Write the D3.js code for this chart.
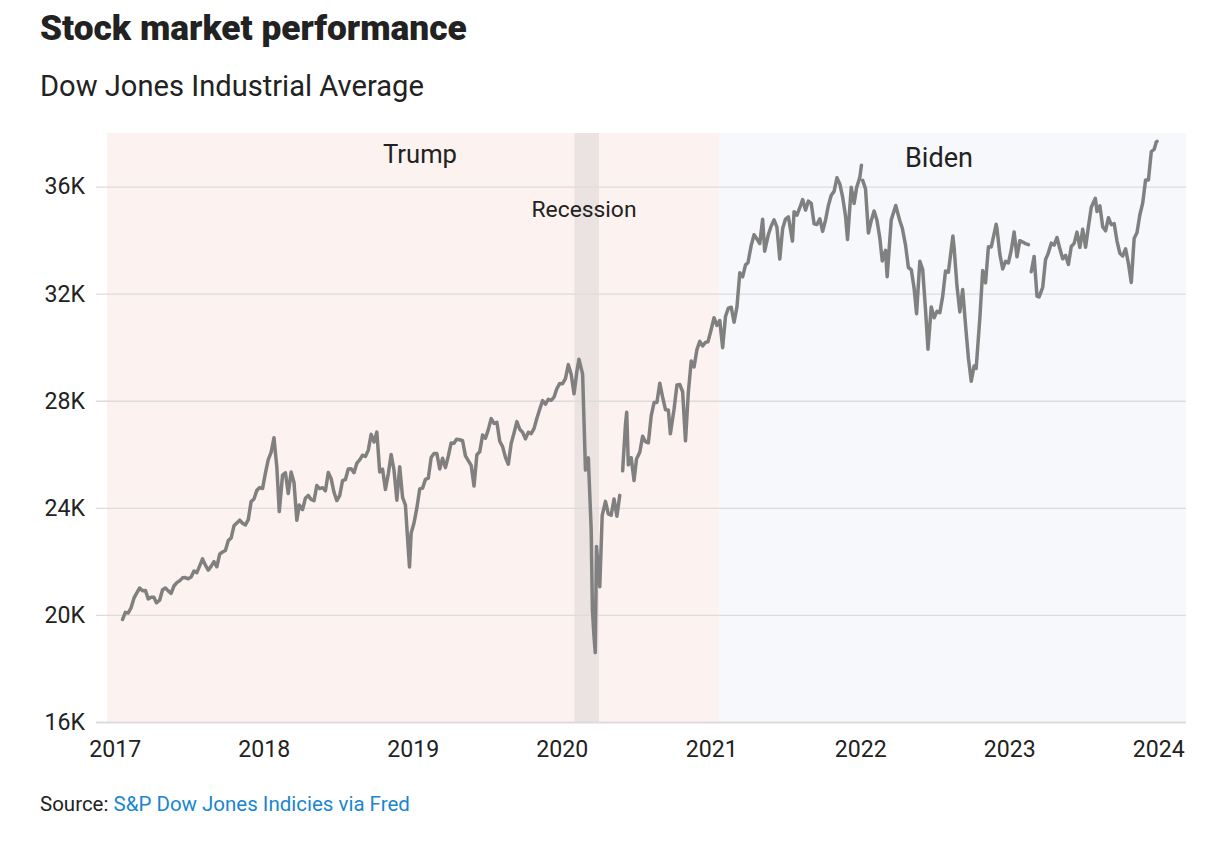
<!DOCTYPE html>
<html><head><meta charset="utf-8">
<script src="https://cdn.jsdelivr.net/npm/d3@7"></script>
<style>
body{margin:0;background:#fff;}
text{font-family:Roboto,"Noto Sans",sans-serif;}
</style>
</head><body>
<svg id="c" width="1214" height="850"></svg>
<script>
// ---- data (weekly DJIA closes) ----
const dates = [
"2017-01-20","2017-01-27","2017-02-03","2017-02-10","2017-02-17","2017-02-24","2017-03-03","2017-03-10","2017-03-17","2017-03-24","2017-03-31","2017-04-07","2017-04-13","2017-04-21","2017-04-28","2017-05-05","2017-05-12","2017-05-19","2017-05-26","2017-06-02","2017-06-09","2017-06-16","2017-06-23","2017-06-30","2017-07-07","2017-07-14","2017-07-21","2017-07-28","2017-08-04","2017-08-11","2017-08-18","2017-08-25","2017-09-01","2017-09-08","2017-09-15","2017-09-22","2017-09-29","2017-10-06","2017-10-13","2017-10-20","2017-10-27","2017-11-03","2017-11-10","2017-11-17","2017-11-24","2017-12-01","2017-12-08","2017-12-15","2017-12-22","2017-12-29",
"2018-01-05","2018-01-12","2018-01-19","2018-01-26","2018-02-02","2018-02-08","2018-02-16","2018-02-23","2018-03-02","2018-03-09","2018-03-16","2018-03-23","2018-03-29","2018-04-06","2018-04-13","2018-04-20","2018-04-27","2018-05-04","2018-05-11","2018-05-18","2018-05-25","2018-06-01","2018-06-08","2018-06-15","2018-06-22","2018-06-29","2018-07-06","2018-07-13","2018-07-20","2018-07-27","2018-08-03","2018-08-10","2018-08-17","2018-08-24","2018-08-31","2018-09-07","2018-09-14","2018-09-21","2018-09-28","2018-10-05","2018-10-12","2018-10-19","2018-10-26","2018-11-02","2018-11-09","2018-11-16","2018-11-23","2018-11-30","2018-12-07","2018-12-14","2018-12-21","2018-12-24","2018-12-28",
"2019-01-04","2019-01-11","2019-01-18","2019-01-25","2019-02-01","2019-02-08","2019-02-15","2019-02-22","2019-03-01","2019-03-08","2019-03-15","2019-03-22","2019-03-29","2019-04-05","2019-04-12","2019-04-18","2019-04-26","2019-05-03","2019-05-10","2019-05-17","2019-05-24","2019-05-31","2019-06-07","2019-06-14","2019-06-21","2019-06-28","2019-07-05","2019-07-12","2019-07-19","2019-07-26","2019-08-02","2019-08-09","2019-08-16","2019-08-23","2019-08-30","2019-09-06","2019-09-13","2019-09-20","2019-09-27","2019-10-04","2019-10-11","2019-10-18","2019-10-25","2019-11-01","2019-11-08","2019-11-15","2019-11-22","2019-11-29","2019-12-06","2019-12-13","2019-12-20","2019-12-27",
"2020-01-03","2020-01-10","2020-01-17","2020-01-24","2020-01-31","2020-02-07","2020-02-12","2020-02-21","2020-02-28","2020-03-06","2020-03-13","2020-03-16","2020-03-20","2020-03-23","2020-03-26","2020-04-03","2020-04-09","2020-04-17","2020-04-24","2020-05-01","2020-05-08","2020-05-15","2020-05-22","2020-05-26","2020-05-29","2020-06-05","2020-06-08","2020-06-12","2020-06-19","2020-06-26","2020-07-02","2020-07-10","2020-07-17","2020-07-24","2020-07-31","2020-08-07","2020-08-14","2020-08-21","2020-08-28","2020-09-04","2020-09-11","2020-09-18","2020-09-23","2020-10-02","2020-10-09","2020-10-16","2020-10-23","2020-10-30","2020-11-06","2020-11-13","2020-11-20","2020-11-27","2020-12-04","2020-12-11","2020-12-18","2020-12-24","2020-12-31",
"2021-01-08","2021-01-15","2021-01-22","2021-01-29","2021-02-05","2021-02-12","2021-02-19","2021-02-26","2021-03-05","2021-03-12","2021-03-19","2021-03-26","2021-04-01","2021-04-09","2021-04-16","2021-04-23","2021-04-30","2021-05-07","2021-05-12","2021-05-21","2021-05-28","2021-06-04","2021-06-11","2021-06-18","2021-06-25","2021-07-02","2021-07-09","2021-07-19","2021-07-23","2021-07-30","2021-08-06","2021-08-13","2021-08-20","2021-08-27","2021-09-03","2021-09-10","2021-09-17","2021-09-24","2021-10-01","2021-10-08","2021-10-15","2021-10-22","2021-10-29","2021-11-05","2021-11-12","2021-11-19","2021-11-26","2021-12-01","2021-12-10","2021-12-17","2021-12-23","2021-12-31",
"2022-01-04","2022-01-05","2022-01-07","2022-01-14","2022-01-21","2022-01-28","2022-02-04","2022-02-11","2022-02-18","2022-02-24","2022-03-04","2022-03-08","2022-03-18","2022-03-29","2022-04-08","2022-04-14","2022-04-22","2022-04-29","2022-05-06","2022-05-13","2022-05-19","2022-05-27","2022-06-03","2022-06-10","2022-06-16","2022-06-24","2022-07-01","2022-07-08","2022-07-15","2022-07-22","2022-07-29","2022-08-05","2022-08-16","2022-08-19","2022-08-26","2022-09-02","2022-09-09","2022-09-16","2022-09-23","2022-09-30","2022-10-07","2022-10-12","2022-10-21","2022-10-28","2022-11-04","2022-11-11","2022-11-18","2022-11-30","2022-12-02","2022-12-09","2022-12-16","2022-12-23","2022-12-30",
"2023-01-06","2023-01-13","2023-01-20","2023-01-27","2023-02-03","2023-02-10","2023-02-17","2023-02-21","2023-02-24","2023-03-03","2023-03-10","2023-03-15","2023-03-24","2023-03-31","2023-04-06","2023-04-14","2023-04-21","2023-04-28","2023-05-05","2023-05-12","2023-05-19","2023-05-26","2023-06-02","2023-06-09","2023-06-16","2023-06-23","2023-06-30","2023-07-07","2023-07-14","2023-07-21","2023-07-31","2023-08-04","2023-08-11","2023-08-18","2023-08-25","2023-09-01","2023-09-08","2023-09-15","2023-09-22","2023-09-29","2023-10-06","2023-10-13","2023-10-20","2023-10-27","2023-11-03","2023-11-10","2023-11-17","2023-11-24","2023-12-01","2023-12-08","2023-12-15","2023-12-22","2023-12-27","2023-12-29"
];
const values = [
19827,20094,20071,20269,20624,20822,21005,20903,20915,20597,20663,20656,20453,20548,20941,21007,20897,20805,21080,21206,21272,21384,21395,21350,21414,21638,21580,21830,22093,21858,21675,21814,21988,21798,22268,22350,22405,22774,22871,23329,23434,23539,23422,23358,23558,24231,24329,24652,24754,24719,
25296,25803,26072,26617,25521,23860,25219,25310,24538,25336,24947,23533,24103,23933,24360,24463,24311,24263,24831,24715,24753,24635,25317,25090,24581,24271,24456,25019,25058,25451,25463,25313,25669,25790,25965,25917,26155,26743,26458,26828,25340,25444,24688,25270,25989,25413,24286,25538,24389,24100,22445,21792,23062,
23433,23996,24706,24737,25064,25106,25883,26031,26026,25450,25849,25502,25929,26425,26412,26559,26543,26505,25942,25764,25586,24815,25984,26090,26719,26600,26922,27332,27154,27192,26485,26287,25886,25629,26403,26797,27220,26935,26820,26574,26817,26770,26958,27347,27681,28005,27876,28051,28015,28135,28455,28645,
28635,28824,29348,28990,28256,29103,29551,28992,25409,25865,23186,20188,19174,18592,22552,21053,23719,24242,23775,23724,24331,23685,24465,null,25383,27111,27572,25606,25871,25016,25827,26075,26672,26470,26428,27433,27931,27930,28654,28133,27666,27657,26763,27683,28587,28606,28336,26502,28323,29480,29263,29910,30218,30046,30179,30200,30606,
31098,30814,30997,29983,31148,31458,31494,30932,31496,32779,32628,33073,33153,33801,34200,34043,33875,34778,33587,34208,34529,34756,34480,33290,34434,34786,34870,33962,35061,34935,35209,35515,35120,35456,35369,34608,34584,34798,34326,34746,35295,35677,35820,36328,36100,35602,34899,34022,35971,35365,35950,36338,
36799,null,36232,35912,34265,34725,35089,34738,34079,33223,33615,32632,34755,35294,34721,34451,33811,32977,32899,32197,31253,33213,32900,31393,29927,31501,31097,31338,31289,31899,32845,32803,34152,33707,32283,31318,32152,30822,29590,28726,29297,29210,31083,32862,32403,33748,33746,34589,34430,33477,32920,33204,33147,
33631,34303,33375,33978,33926,33869,33827,null,32817,33391,31910,31874,32238,33274,33485,33886,33809,34098,33674,33301,33427,33093,33763,33877,34299,33727,34408,33735,34509,35228,35559,35066,35281,34501,34347,34838,34577,34618,33964,33508,33408,33670,33127,32418,34061,34283,34947,35390,36246,36248,37306,37386,37656,37690
];
const yTicks = [16000,20000,24000,28000,32000,36000];
const xTickYears = [2017,2018,2019,2020,2021,2022,2023,2024];
const periodLabels = ["Trump","Biden"];
const periodStarts = ["2016-12-13","2021-01-20"];
const periodEnds = ["2021-01-20","2024-03-09"];
const recessionStart = "2020-02-01";
const recessionEnd = "2020-04-01";

// ---- layout ----
const svg = d3.select("#c");
const parse = d3.timeParse("%Y-%m-%d");
const L = 107, R = 1186, T = 133, B = 722;
const x = d3.scaleTime().domain([parse("2016-12-13"), parse("2024-03-09")]).range([L, R]);
const y = d3.scaleLinear().domain([16000, 38000]).range([B, T]);
const data = dates.map((d,i)=>({date:parse(d), v:values[i]}));

function fit(sel, w){ const cur = parseFloat(sel.style("font-size")); const len = sel.node().getComputedTextLength(); const fs = cur*w/len; sel.style("font-size",fs+"px"); return fs; }

// backgrounds
const bgColors = ["#fcf2ef","#f7f8fc"];
svg.selectAll("rect.period").data(periodLabels).join("rect")
  .attr("x",(d,i)=>x(parse(periodStarts[i])))
  .attr("width",(d,i)=>x(parse(periodEnds[i]))-x(parse(periodStarts[i])))
  .attr("y",T).attr("height",B-T)
  .attr("fill",(d,i)=>bgColors[i]);
svg.append("rect")
  .attr("x",x(parse(recessionStart)))
  .attr("width",x(parse(recessionEnd))-x(parse(recessionStart)))
  .attr("y",T).attr("height",B-T).attr("fill","#ebe2e2");

// measure label font size for tick text (target: "2017" ≈ 53px wide)
const probe = svg.append("text").style("font-size","20px").text("2017");
const tickFs = fit(probe, 52);
probe.remove();

// y axis grid + labels
const gy = svg.append("g").attr("transform",`translate(${R},0)`);
gy.call(d3.axisLeft(y).tickValues(yTicks).tickSize(R-96).tickFormat(d=>(d/1000)+"K").tickPadding(11));
gy.select(".domain").remove();
gy.selectAll(".tick line").attr("stroke","#dcdcdc").attr("stroke-width",d=>d===16000?2:1.3);
gy.selectAll(".tick text").attr("fill","#222").style("font-size",tickFs+"px");

// x axis labels
const gx = svg.append("g").attr("transform",`translate(0,${B})`);
gx.call(d3.axisBottom(x).tickValues(xTickYears.map(yy=>new Date(yy,0,1))).tickFormat(d3.timeFormat("%Y")).tickSize(0).tickPadding(35 - 0.71*tickFs));
gx.select(".domain").remove();
gx.selectAll(".tick text").attr("fill","#222").style("font-size",tickFs+"px");

// line
const line = d3.line().defined(d=>d.v!==null).x(d=>x(d.date)).y(d=>y(d.v)).curve(d3.curveLinear);
svg.append("path").datum(data).attr("d",line).attr("fill","none")
  .attr("stroke","#808080").attr("stroke-width",3.5).attr("stroke-linejoin","round").attr("stroke-linecap","round");

// period labels
const lt = svg.append("text").attr("x",420).attr("y",163).attr("text-anchor","middle").attr("fill","#222").style("font-size","24px").text(periodLabels[0]);
fit(lt, 74);
const lb = svg.append("text").attr("x",939).attr("y",167).attr("text-anchor","middle").attr("fill","#222").style("font-size","24px").text(periodLabels[1]);
fit(lb, 68);
const lr = svg.append("text").attr("x",584).attr("y",217).attr("text-anchor","middle").attr("fill","#222").style("font-size","20px").text("Recession");
fit(lr, 105);

// titles
const t1 = svg.append("text").attr("x",40).attr("y",40).attr("fill","#222").style("font-size","28px").style("font-weight","900").text("Stock market performance");
fit(t1, 427);
const t2 = svg.append("text").attr("x",40).attr("y",96).attr("fill","#222").style("font-size","26px").text("Dow Jones Industrial Average");
fit(t2, 384);
const src = svg.append("text").attr("x",40).attr("y",811).style("font-size","18px");
src.append("tspan").attr("fill","#222").text("Source: ");
src.append("tspan").attr("fill","#1a86d0").text("S&P Dow Jones Indicies via Fred");
fit(src, 370);
</script>
</body></html>
